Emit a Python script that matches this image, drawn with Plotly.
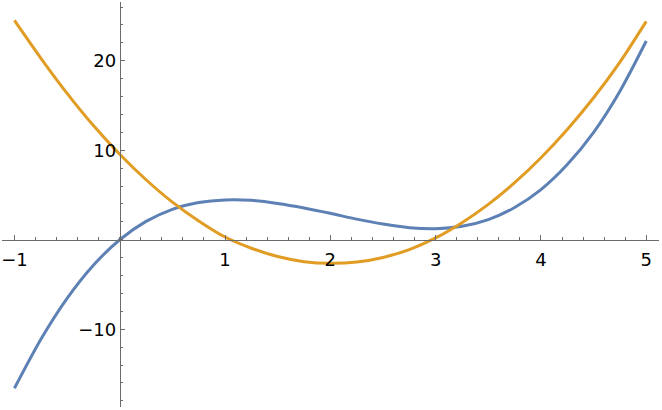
import plotly.graph_objects as go

# x samples and the two curves
x_vals = [-1.0, -0.75, -0.5, -0.25, 0.0, 0.25, 0.5, 0.75, 1.0, 1.25, 1.5, 1.75, 2.0,
          2.25, 2.5, 2.75, 3.0, 3.25, 3.5, 3.75, 4.0, 4.25, 4.5, 4.75, 5.0]
blue_vals = [-16.6, -11.15, -6.55, -2.85, 0.0, 2.05, 3.4, 4.15, 4.45, 4.4, 4.05, 3.55, 2.95,
             2.3, 1.75, 1.35, 1.23, 1.5, 2.25, 3.6, 5.6, 8.4, 12.0, 16.6, 22.2]
orange_vals = [24.5, 20.3, 16.35, 12.75, 9.55, 6.7, 4.2, 2.1, 0.3, -0.95, -1.88, -2.45, -2.64,
               -2.5, -1.98, -1.1, 0.2, 1.9, 3.95, 6.37, 9.16, 12.32, 15.86, 19.85, 24.4]

x_ticks = [-1, 1, 2, 3, 4, 5]
x_tick_text = ["\u22121", "1", "2", "3", "4", "5"]
y_ticks = [-10, 10, 20]
y_tick_text = ["\u221210", "10", "20"]

x_range = [-1.118, 5.121]
y_range = [-18.69, 26.56]

BLUE = "#5E81B5"
ORANGE = "#E19C24"
AXIS = "#6b6b6b"

fig = go.Figure()
fig.add_trace(go.Scatter(x=x_vals, y=blue_vals, mode="lines", hoverinfo="skip",
                         line=dict(color=BLUE, width=3, shape="spline", smoothing=0.8)))
fig.add_trace(go.Scatter(x=x_vals, y=orange_vals, mode="lines", hoverinfo="skip",
                         line=dict(color=ORANGE, width=3, shape="spline", smoothing=0.8)))

# axes cross at the origin, like Mathematica's Plot
x_pos = (0 - y_range[0]) / (y_range[1] - y_range[0])
y_pos = (0 - x_range[0]) / (x_range[1] - x_range[0])

tick_font = dict(family="DejaVu Sans", size=18, color="black")

fig.update_layout(
    width=662, height=410,
    margin=dict(l=2, r=3, t=2, b=3, autoexpand=False),
    paper_bgcolor="white", plot_bgcolor="white",
    showlegend=False,
    xaxis=dict(range=x_range, anchor="free", position=x_pos, side="bottom",
               automargin=False,
               showline=True, linecolor=AXIS, linewidth=1,
               showgrid=False, zeroline=False,
               tickvals=x_ticks, ticktext=x_tick_text, tickfont=tick_font,
               ticks="inside", ticklen=4.5, tickwidth=1, tickcolor=AXIS,
               ticklabelstandoff=4, ticklabeloverflow="allow",
               minor=dict(dtick=0.2, tick0=0, ticks="inside", ticklen=2.5,
                          tickwidth=1, tickcolor=AXIS, showgrid=False)),
    yaxis=dict(range=y_range, anchor="free", position=y_pos, side="left",
               automargin=False,
               showline=True, linecolor=AXIS, linewidth=1,
               showgrid=False, zeroline=False,
               tickvals=y_ticks, ticktext=y_tick_text, tickfont=tick_font,
               ticks="inside", ticklen=4.5, tickwidth=1, tickcolor=AXIS,
               ticklabeloverflow="allow",
               minor=dict(dtick=2, tick0=0, ticks="inside", ticklen=2.5,
                          tickwidth=1, tickcolor=AXIS, showgrid=False)),
)

# drop the page's default body margin so the figure sits in the corner
fig.write_html("out.html", config={"displayModeBar": False},
               post_script="document.body.style.margin = '0';")
